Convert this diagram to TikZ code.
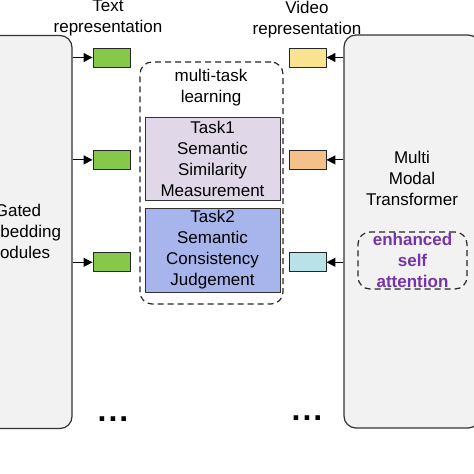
\documentclass[tikz,border=0pt]{standalone}
\usepackage{fontspec}
\setmainfont{Liberation Sans}
\usepackage{tikz}
\usetikzlibrary{arrows.meta, positioning}

\definecolor{panelgray}{RGB}{242,242,242}
\definecolor{txtgreen}{RGB}{134,201,74}
\definecolor{vidyellow}{RGB}{248,227,145}
\definecolor{vidorange}{RGB}{245,193,139}
\definecolor{vidblue}{RGB}{183,227,232}
\definecolor{taskone}{RGB}{224,216,232}
\definecolor{tasktwo}{RGB}{168,180,236}
\definecolor{attnpurple}{RGB}{118,52,170}

\begin{document}
\begin{tikzpicture}[
    x=1pt, y=1pt,
    font=\fontsize{17}{21}\selectfont,
    panel/.style={rectangle, rounded corners=12pt, draw=black!80, line width=1.2pt, fill=panelgray},
    repbox/.style={rectangle, draw=black!85, line width=0.9pt, minimum width=37pt, minimum height=19pt, inner sep=0pt},
    task/.style={rectangle, draw=black!80, line width=0.9pt, minimum width=135pt, align=center, inner sep=0pt},
    group/.style={rectangle, rounded corners=12pt, draw=black!85, line width=1.2pt, dash pattern=on 6pt off 4pt},
    arrow/.style={line width=1.1pt, -{Triangle[length=9pt, width=9pt]}}
]
\clip (0,0) rectangle (474,-474);
\fill[white] (0,0) rectangle (474,-474);

% Panels
\node (gem) [panel, minimum width=108pt, minimum height=393pt] at (18,-232) {};
\node (gemtext) [align=center] at (18,-231) {Gated\\Embedding\\Modules};
\node (mmt) [panel, minimum width=136pt, minimum height=393pt] at (412,-231.5) {};
\node (mmttext) [align=center] at (412,-178) {Multi\\Modal\\Transformer};
\node (esa) [group, text=attnpurple, font=\fontsize{17}{21}\selectfont\bfseries, align=center, minimum width=109pt, minimum height=57pt, inner sep=0pt] at (412.5,-260.5) {enhanced\\self\\attention};

% Representations
\node (txt1) [repbox, fill=txtgreen] at (111.5,-57.5) {};
\node (txt2) [repbox, fill=txtgreen, below=82.5pt of txt1] {};
\node (txt3) [repbox, fill=txtgreen, below=82.5pt of txt2] {};
\node (vid1) [repbox, fill=vidyellow] at (307.5,-57.5) {};
\node (vid2) [repbox, fill=vidorange, below=82.5pt of vid1] {};
\node (vid3) [repbox, fill=vidblue, below=82.5pt of vid2] {};
\node (txtlabel) [align=center] at (108,-18) {Text\\representation};
\node (vidlabel) [align=center] at (307,-20) {Video\\representation};

% Multi-task learning
\node (mtl) [group, minimum width=143pt, minimum height=242pt] at (211.5,-183) {};
\node (mtltext) [align=center] at (211,-88) {multi-task\\learning};
\node (task1) [task, fill=taskone, minimum height=83pt] at (212.5,-158.5) {Task1\\Semantic\\Similarity\\Measurement};
\node (task2) [task, fill=tasktwo, minimum height=84pt] at (212.5,-250) {Task2\\Semantic\\Consistency\\Judgement};

% Dots
\node (moretxt) [font=\fontsize{32}{32}\selectfont\bfseries] at (113,-419) {.\hspace{2pt}.\hspace{2pt}.};
\node (morevid) [font=\fontsize{32}{32}\selectfont\bfseries] at (307,-418) {.\hspace{2pt}.\hspace{2pt}.};

% Arrows
\foreach \i in {1,2,3} {
    \draw [arrow] (gem.east |- txt\i) -- (txt\i);
    \draw [arrow] (mmt.west |- vid\i) -- (vid\i);
}

\end{tikzpicture}
\end{document}
